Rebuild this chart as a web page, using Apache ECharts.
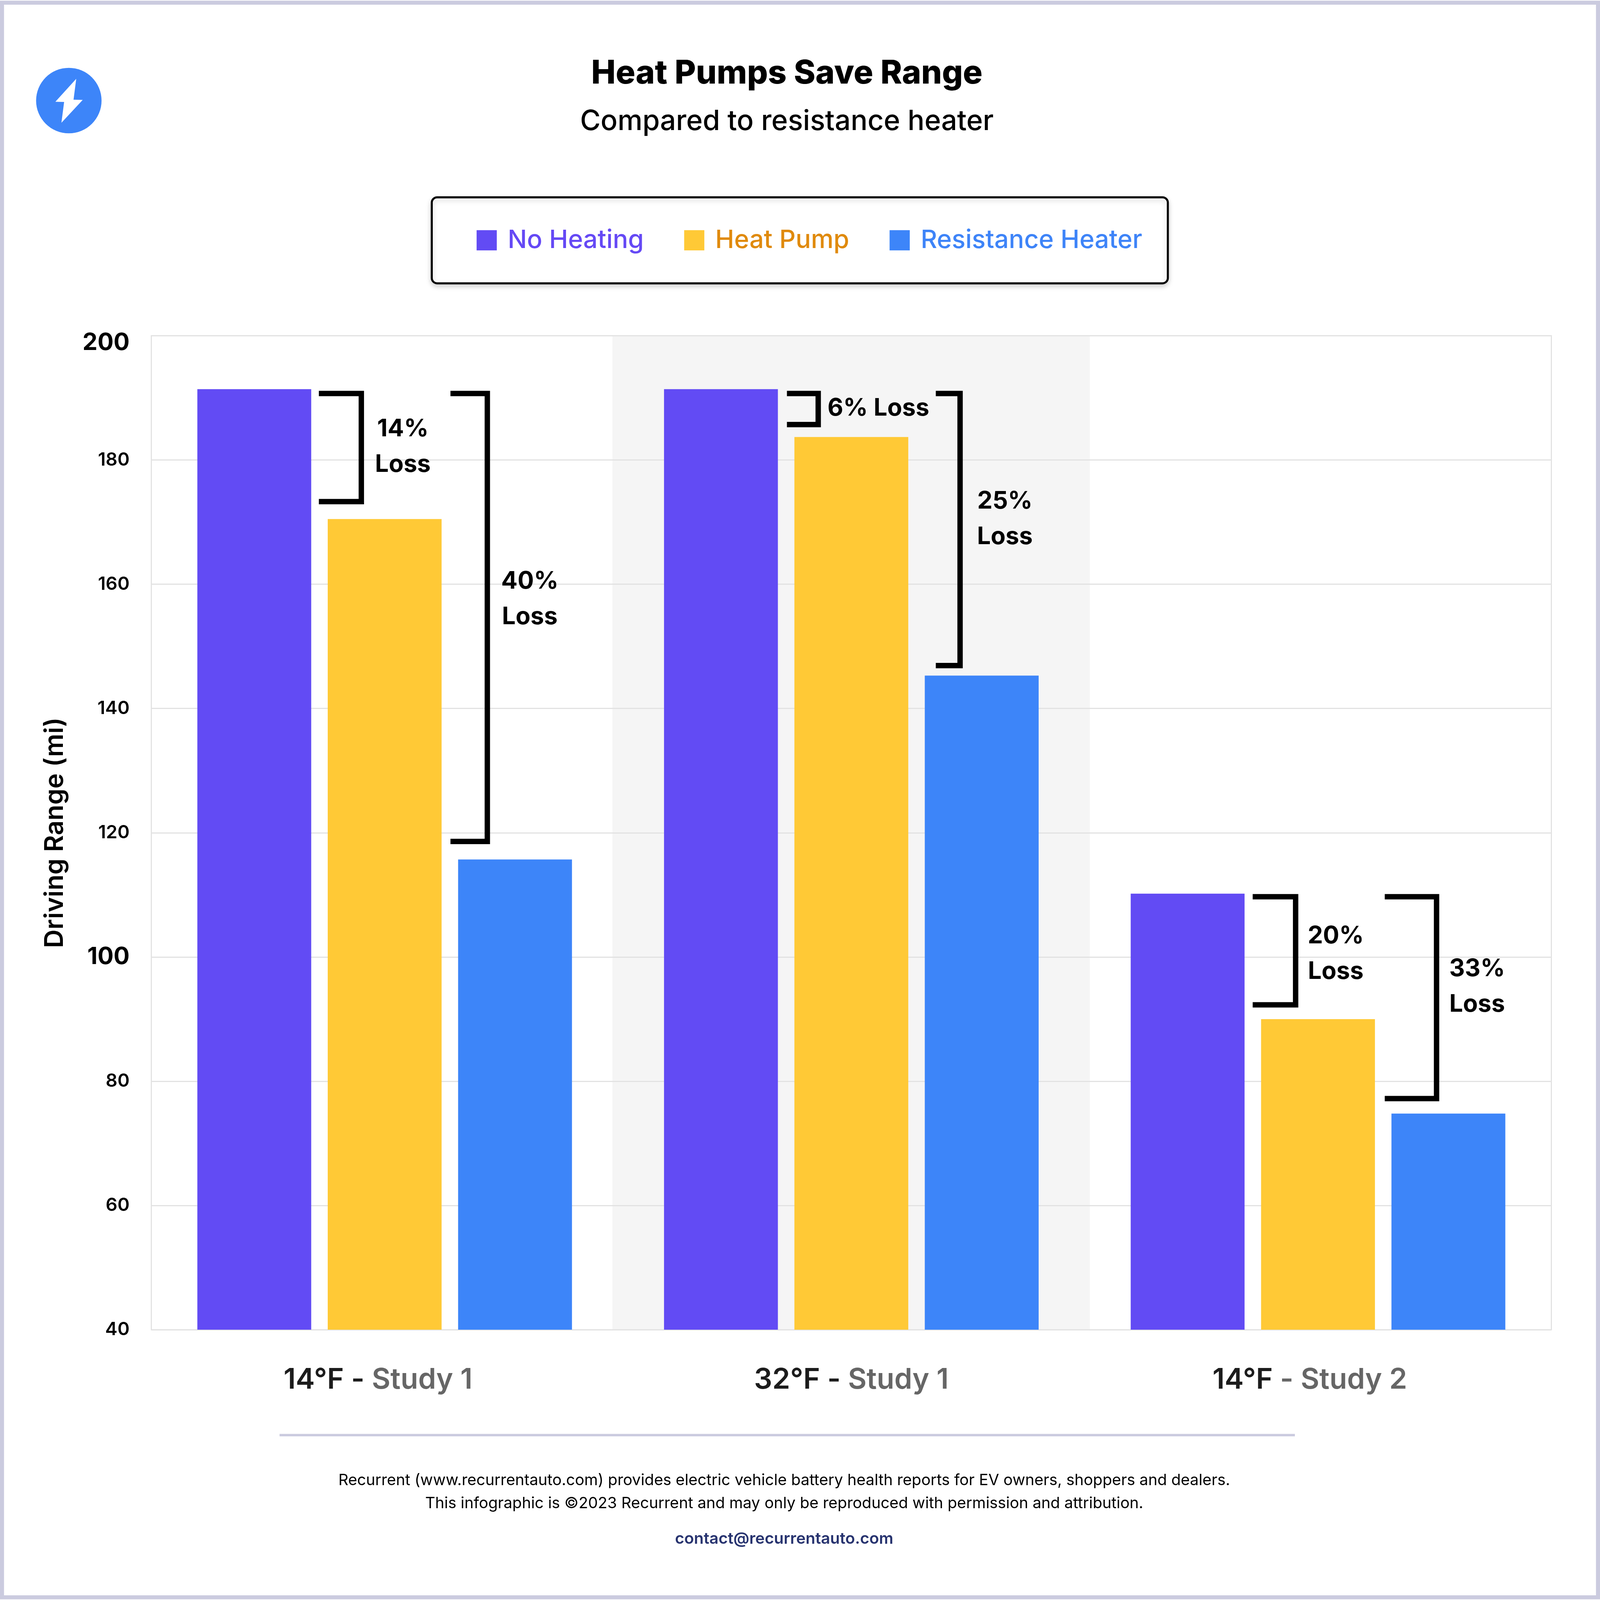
<!DOCTYPE html>
<html>
<head>
<meta charset="utf-8">
<script src="https://cdn.jsdelivr.net/npm/echarts@6/dist/echarts.min.js"></script>
<style>
    html, body, #main { width: 100%; height: 100%; margin: 0; background: #fff; }
</style>
</head>
<body>
<div id="main"></div>
<script>
var FONT = 'Inter';

var categories = ['14°F - Study 1', '32°F - Study 1', '14°F - Study 2'];
var noHeating = [191.4, 191.4, 110.2];
var heatPump = [170.5, 183.7, 90];
var resistanceHeater = [115.7, 145.3, 74.8];

// annotations, x in category units (0..3), y in miles
var brackets = [
    [0.359, 0.450, 190.7, 173.3],
    [0.641, 0.720, 190.7, 118.6],
    [1.362, 1.429, 190.7, 185.7],
    [1.681, 1.733, 190.7, 146.9],
    [2.360, 2.452, 109.7, 92.3],
    [2.643, 2.754, 109.7, 77.2]
];
var lossLabels = [
    [0.539, 182.1, '14%\nLoss'],
    [0.811, 157.6, '40%\nLoss'],
    [1.558, 188.3, '6% Loss'],
    [1.829, 170.5, '25%\nLoss'],
    [2.538, 100.5, '20%\nLoss'],
    [2.841, 95.2, '33%\nLoss']
];
var shadedBand = [[0.988, 2.011]];

var chart = echarts.init(document.getElementById('main'));

// layout was measured on the 7137x5328 original, scale it to whatever the window is
var W = chart.getWidth(), H = chart.getHeight();
var sx = W / 7137, sy = H / 5328;
function fx(x) { return x * sx; }
function fy(y) { return y * sy; }
function fs(v) { return v * sx; }

function barSeries(name, data, color) {
    return {
        name: name,
        type: 'bar',
        data: data,
        barWidth: '24.4%',
        barGap: '14.5%',
        itemStyle: { color: color }
    };
}

var logoCx = fx(307), logoCy = fy(335);
var bolt = [[33, -97], [-60, 5], [-21, 6], [-33, 99], [62, -3], [21, -4]].map(function (p) {
    return [logoCx + fs(p[0]), logoCy + fs(p[1])];
});
var legendPadY = (fy(290) - fs(90)) / 2 - fs(14);

chart.setOption({
    animation: false,
    title: [{
        text: 'Heat Pumps Save Range',
        left: fx(3510),
        top: fy(246),
        padding: 0,
        textAlign: 'center',
        textVerticalAlign: 'middle',
        textStyle: { fontFamily: FONT, fontSize: fs(146), fontWeight: 800, color: '#000' }
    }, {
        text: 'Compared to resistance heater',
        left: fx(3510),
        top: fy(405),
        padding: 0,
        textAlign: 'center',
        textVerticalAlign: 'middle',
        textStyle: { fontFamily: FONT, fontSize: fs(125), fontWeight: 500, color: '#000' }
    }],
    legend: {
        data: [
            { name: 'No Heating', textStyle: { color: '#6549F5' } },
            { name: 'Heat Pump', textStyle: { color: '#E08A0C' } },
            { name: 'Resistance Heater', textStyle: { color: '#3E84F8' } }
        ],
        left: fx(1926),
        top: fy(657),
        width: fx(5000),
        icon: 'rect',
        itemWidth: fs(90),
        itemHeight: fs(90),
        itemGap: fs(180),
        padding: [legendPadY, fx(114), legendPadY, fx(200)],
        backgroundColor: '#fff',
        borderColor: '#000',
        borderWidth: fs(9),
        borderRadius: fs(24),
        shadowBlur: fs(24),
        shadowColor: 'rgba(0,0,0,0.18)',
        shadowOffsetY: fs(10),
        textStyle: { fontFamily: FONT, fontSize: fs(113.5), fontWeight: 500, padding: [0, 0, 0, fs(40)] }
    },
    grid: {
        left: fx(675),
        top: fy(1118),
        width: fx(6245),
        height: fy(3310),
        show: true,
        borderColor: '#E2E2E2',
        borderWidth: fs(5),
        backgroundColor: 'transparent'
    },
    xAxis: [{
        type: 'category',
        data: categories,
        axisLine: { show: false },
        axisTick: { show: false },
        axisLabel: {
            margin: fy(120),
            formatter: function (value, index) {
                var dash = value.indexOf(' - ');
                var left = value.slice(0, dash);
                var right = value.slice(dash + 3);
                if (index === 2) {
                    return '{k|' + left + ' }{p2|- ' + right + '}';
                }
                return '{k|' + left + ' - }{' + (index === 0 ? 'p1' : 'g') + '|' + right + '}';
            },
            rich: {
                k: { fontFamily: FONT, fontSize: fs(128), fontWeight: 600, color: '#1c1c1c' },
                g: { fontFamily: FONT, fontSize: fs(128), fontWeight: 600, color: '#666' },
                p1: { fontFamily: FONT, fontSize: fs(128), fontWeight: 600, color: '#666', padding: [0, fs(59), 0, 0] },
                p2: { fontFamily: FONT, fontSize: fs(128), fontWeight: 600, color: '#666', padding: [0, fs(73), 0, 0] }
            }
        }
    }, {
        type: 'value',
        min: 0,
        max: 3,
        show: false,
        splitLine: { show: false }
    }],
    yAxis: {
        type: 'value',
        min: 40,
        max: 200,
        interval: 20,
        name: 'Driving Range (mi)',
        nameLocation: 'middle',
        nameGap: fx(371),
        nameTextStyle: { fontFamily: FONT, fontSize: fs(115), fontWeight: 600, color: '#000' },
        axisLine: { show: false },
        axisTick: { show: false },
        splitLine: { lineStyle: { color: '#E2E2E2', width: fs(5) } },
        axisLabel: {
            margin: fx(97),
            formatter: function (value) {
                if (value === 200) return '{top|' + value + '}';
                return value === 100 ? '{big|' + value + '}' : '{small|' + value + '}';
            },
            rich: {
                top: { fontFamily: FONT, fontSize: fs(106), fontWeight: 700, color: '#000', padding: [fs(62), 0, 0, 0] },
                big: { fontFamily: FONT, fontSize: fs(106), fontWeight: 700, color: '#000' },
                small: { fontFamily: FONT, fontSize: fs(82), fontWeight: 600, color: '#000' }
            }
        }
    },
    series: [
        barSeries('No Heating', noHeating, '#624BF4'),
        barSeries('Heat Pump', heatPump, '#FFC936'),
        barSeries('Resistance Heater', resistanceHeater, '#3D85F9'),
        {
            type: 'custom',
            xAxisIndex: 1,
            z: -1,
            silent: true,
            data: shadedBand,
            renderItem: function (params, api) {
                var a = api.coord([api.value(0), 200]);
                var b = api.coord([api.value(1), 40]);
                return {
                    type: 'rect',
                    shape: { x: a[0], y: a[1], width: b[0] - a[0], height: b[1] - a[1] },
                    style: { fill: '#F5F5F5' }
                };
            }
        },
        {
            type: 'custom',
            xAxisIndex: 1,
            z: 5,
            silent: true,
            data: brackets,
            renderItem: function (params, api) {
                var p0 = api.coord([api.value(0), api.value(2)]);
                var p1 = api.coord([api.value(1), api.value(2)]);
                var p2 = api.coord([api.value(1), api.value(3)]);
                var p3 = api.coord([api.value(0), api.value(3)]);
                return {
                    type: 'polyline',
                    shape: { points: [p0, p1, p2, p3] },
                    style: { fill: 'none', stroke: '#000', lineWidth: fs(24), lineJoin: 'miter' }
                };
            }
        },
        {
            type: 'custom',
            xAxisIndex: 1,
            z: 5,
            silent: true,
            data: lossLabels,
            renderItem: function (params, api) {
                var p = api.coord([api.value(0), api.value(1)]);
                return {
                    type: 'text',
                    style: {
                        x: p[0],
                        y: p[1],
                        text: lossLabels[params.dataIndex][2],
                        align: 'center',
                        verticalAlign: 'middle',
                        fontFamily: FONT,
                        fontSize: fs(108),
                        fontWeight: 700,
                        lineHeight: fy(118),
                        fill: '#000'
                    }
                };
            }
        }
    ],
    graphic: [
        {
            type: 'rect',
            shape: { x: fx(9), y: fy(9), width: fx(7119), height: fy(5310) },
            style: { fill: 'none', stroke: '#CBCBDF', lineWidth: fs(18) }
        },
        { type: 'circle', shape: { cx: logoCx, cy: logoCy, r: fs(146) }, style: { fill: '#3D85F9' } },
        { type: 'polygon', shape: { points: bolt }, style: { fill: '#fff' } },
        {
            type: 'line',
            shape: { x1: fx(1247), y1: fy(4779), x2: fx(5776), y2: fy(4779) },
            style: { stroke: '#CBCBDF', lineWidth: fs(11) }
        },
        {
            type: 'text', x: fx(3498), y: fy(4930),
            style: {
                text: 'Recurrent (www.recurrentauto.com) provides electric vehicle battery health reports for EV owners, shoppers and dealers.',
                align: 'center', verticalAlign: 'middle', fontFamily: FONT, fontSize: fs(69.3), fontWeight: 400, fill: '#000'
            }
        },
        {
            type: 'text', x: fx(3498), y: fy(5007),
            style: {
                text: 'This infographic is ©2023 Recurrent and may only be reproduced with permission and attribution.',
                align: 'center', verticalAlign: 'middle', fontFamily: FONT, fontSize: fs(69.3), fontWeight: 400, fill: '#000'
            }
        },
        {
            type: 'text', x: fx(3498), y: fy(5125),
            style: {
                text: 'contact@recurrentauto.com',
                align: 'center', verticalAlign: 'middle', fontFamily: FONT, fontSize: fs(71), fontWeight: 600, fill: '#27336F'
            }
        }
    ]
});
</script>
</body>
</html>
